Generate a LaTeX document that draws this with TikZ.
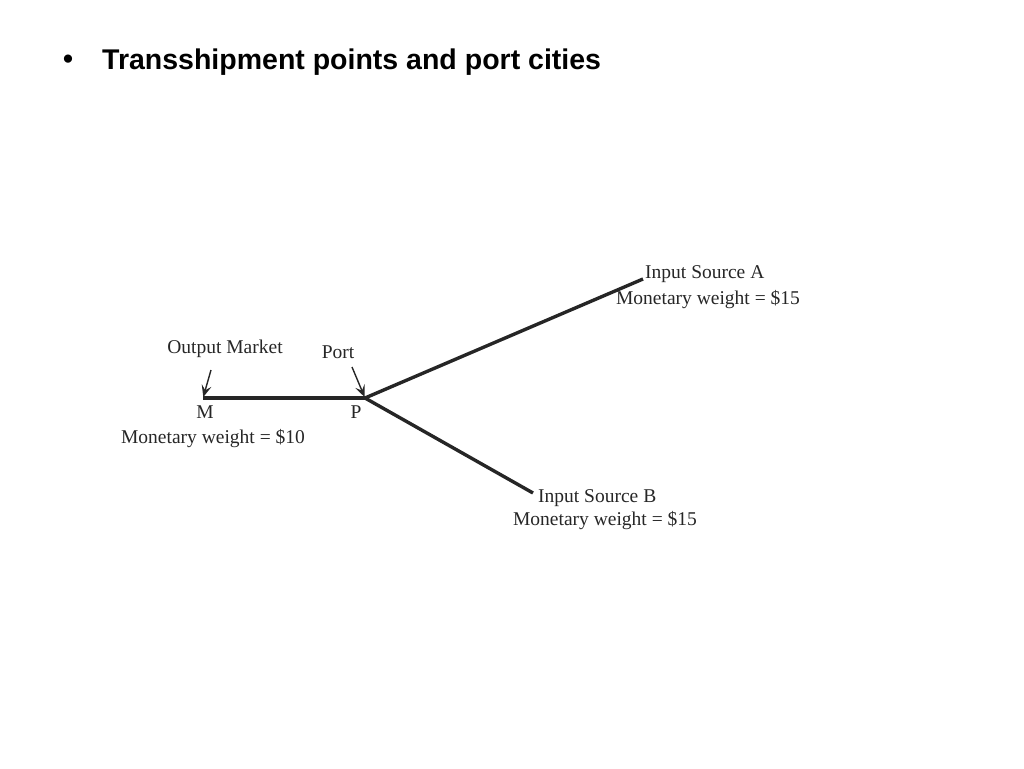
\documentclass[tikz,border=0pt]{standalone}
\usepackage{fontspec}
\setmainfont{Liberation Serif}
\newfontfamily\titlefont{Liberation Sans}
\usetikzlibrary{arrows.meta}
\tikzset{
  route/.style={line width=3.4pt, draw=black!85},
  pointer/.style={line width=1.4pt, draw=black!85, -{Stealth[length=12pt,width=10pt,inset=5pt]}, shorten >=1pt},
  lbl/.style={inner sep=0pt, font=\fontsize{19.5}{21}\selectfont, text=black!85},
}
\begin{document}
\begin{tikzpicture}[x=1pt,y=-1pt]
\useasboundingbox (0,0) rectangle (1024,768);
\node[inner sep=0pt, font=\titlefont\bfseries\fontsize{28.5}{32}\selectfont] (bullet) at (68,62) {•};
\node[inner sep=0pt, anchor=west, font=\titlefont\bfseries\fontsize{28.5}{32}\selectfont] (title) at (102,62) {Transshipment points and port cities};

\coordinate (M) at (203,398);
\coordinate (P) at (365,398);
\coordinate (A) at (643,279);
\coordinate (B) at (533,493);
\coordinate (omtail) at (211,370);
\coordinate (porttail) at (352,367);

\draw[route] (M) -- (P);
\draw[route] (P) -- (A);
\draw[route] (P) -- (B);
\draw[pointer] (omtail) -- (M);
\draw[pointer] (porttail) -- (P);

\node[lbl] (om) at (225,349) {Output Market};
\node[lbl] (port) at (338,352) {Port};
\node[lbl] (mlab) at (205,412) {M};
\node[lbl] (plab) at (356,412) {P};
\node[lbl] (mw) at (213,439) {Monetary weight = \$10};
\node[lbl, anchor=west] (isa) at (645,274) {Input Source A};
\node[lbl] (mwa) at (708,300) {Monetary weight = \$15};
\node[lbl, anchor=west] (isb) at (538,498) {Input Source B};
\node[lbl] (mwb) at (605,521) {Monetary weight = \$15};
\end{tikzpicture}
\end{document}
